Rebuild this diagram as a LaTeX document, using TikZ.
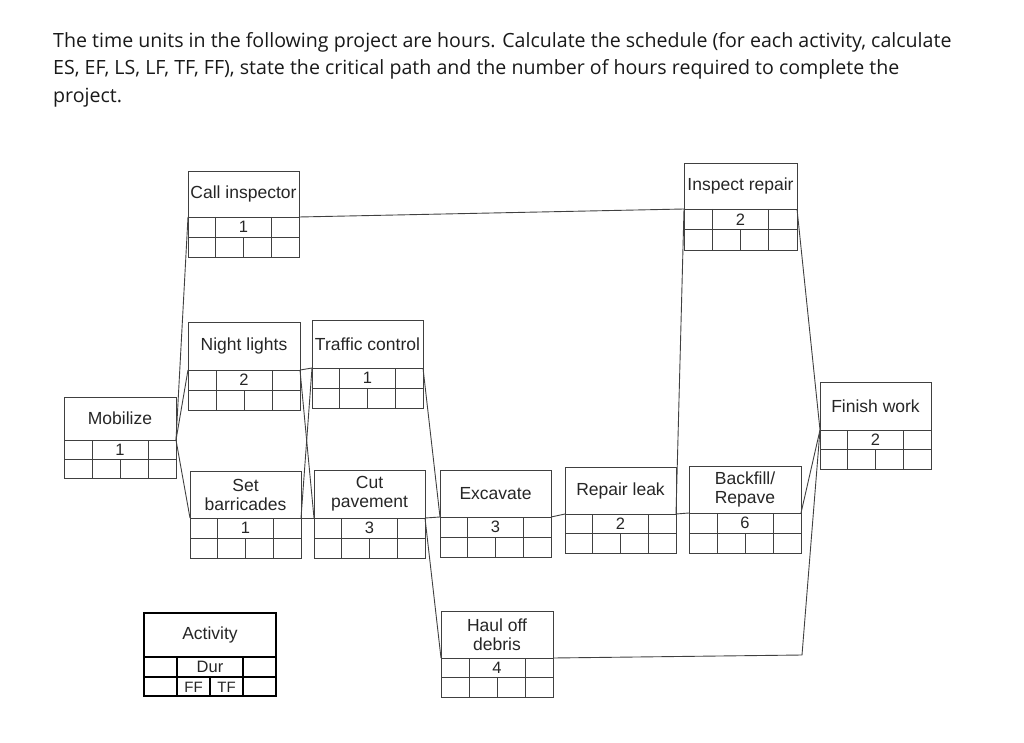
\documentclass[tikz,border=0pt]{standalone}
\usepackage{fontspec}
\setmainfont{Open Sans}
\newfontfamily\diagfont{Liberation Sans}
\begin{document}
\begin{tikzpicture}[x=1pt,y=-1pt,
  boxline/.style={draw=black!75,line width=0.9pt},
  conn/.style={draw=black!75,line width=0.9pt},
  lbl/.style={font=\diagfont\fontsize{17.5}{19}\selectfont,align=center,inner sep=0pt,text=black!85},
  dur/.style={font=\diagfont\fontsize{16.5}{17}\selectfont,inner sep=0pt,text=black!85}]
\useasboundingbox (0,0) rectangle (1024,743);
\newcommand\actbox[8]{%
  \pgfmathsetmacro\rs{(#6+#5)/2}%
  \pgfmathsetmacro\qa{#2+(#4-#2)/4}%
  \pgfmathsetmacro\qb{#2+(#4-#2)/2}%
  \pgfmathsetmacro\qc{#2+3*(#4-#2)/4}%
  \draw[boxline] (#2,#3) rectangle (#4,#5);
  \draw[boxline] (#2,#6) -- (#4,#6) (#2,\rs) -- (#4,\rs)
    (\qa,#6) -- (\qa,#5) (\qc,#6) -- (\qc,#5) (\qb,\rs) -- (\qb,#5);
  \node[lbl] (#1) at ({(#2+#4)/2},{(#3+#6)/2}) {#7};
  \node[dur] (#1-d) at (\qb,{(#6+\rs)/2}) {#8};
  \coordinate (#1-L) at (#2,#6);
  \coordinate (#1-R) at (#4,#6);
}
\node[anchor=north west,align=left,inner sep=0pt,text=black!90,font=\fontsize{19.6}{27.5}\selectfont] (title) at (53,32)
 {The time units in the following project are hours. Calculate the schedule (for each activity, calculate\\
 ES, EF, LS, LF, TF, FF), state the critical path and the number of hours required to complete the\\
 project.};
\actbox{mob}{64}{397}{176}{478}{440}{Mobilize}{1}
\actbox{call}{188}{171}{299}{257}{217}{Call inspector}{1}
\actbox{night}{188}{322}{300}{410}{370}{Night lights}{2}
\actbox{traf}{312}{320}{423}{408}{368}{Traffic control}{1}
\actbox{bar}{190}{471}{301}{558}{518}{Set\\barricades}{1}
\actbox{cut}{314}{470}{425}{558}{518}{Cut\\pavement}{3}
\actbox{exc}{440}{470}{551}{557}{517}{Excavate}{3}
\actbox{rep}{565}{467}{676}{553}{514}{Repair leak}{2}
\actbox{back}{689}{466}{801}{553}{513}{Backfill/\\Repave}{6}
\actbox{insp}{684}{163}{797}{250}{209}{Inspect repair}{2}
\actbox{fin}{820}{382}{931}{469}{430}{Finish work}{2}
\actbox{haul}{441}{611}{553}{697}{658}{Haul off\\debris}{4}
% legend
\draw[line width=1.8pt] (144,613) rectangle (276,696);
\draw[line width=1.5pt] (144,657) -- (276,657) (144,677) -- (276,677)
  (177,657) -- (177,696) (243,657) -- (243,696) (210,677) -- (210,696);
\node[lbl] (leg) at (210,635) {Activity};
\node[dur] (leg-d) at (210,667) {Dur};
\node[dur,font=\diagfont\fontsize{15}{15}\selectfont] (leg-ff) at (193.5,687) {FF};
\node[dur,font=\diagfont\fontsize{15}{15}\selectfont] (leg-tf) at (226.5,687) {TF};
% connectors
\draw[conn] (mob-R) -- (call-L);
\draw[conn] (mob-R) -- (night-L);
\draw[conn] (mob-R) -- (bar-L);
\draw[conn] (call-R) -- (insp-L);
\draw[conn] (night-R) -- (traf-L);
\draw[conn] (night-R) -- (cut-L);
\draw[conn] (bar-R) -- (traf-L);
\draw[conn] (bar-R) -- (cut-L);
\draw[conn] (traf-R) -- (exc-L);
\draw[conn] (cut-R) -- (exc-L);
\draw[conn] (cut-R) -- (haul-L);
\draw[conn] (exc-R) -- (rep-L);
\draw[conn] (rep-R) -- (back-L);
\draw[conn] (rep-R) -- (insp-L);
\draw[conn] (back-R) -- (fin-L);
\draw[conn] (insp-R) -- (fin-L);
\coordinate (hc) at (802,655);
\draw[conn] (haul-R) -- (hc) -- (fin-L);
\end{tikzpicture}
\end{document}
